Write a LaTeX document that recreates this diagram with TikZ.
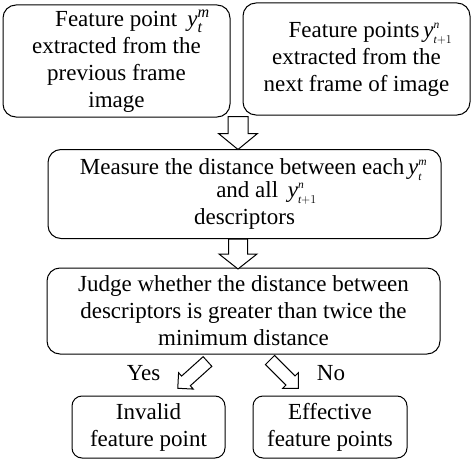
\documentclass[tikz,border=0pt]{standalone}
\usepackage{fontspec}
\setmainfont{Liberation Serif}
\usetikzlibrary{calc}
\begin{document}
\begin{tikzpicture}[x=1pt,y=-1pt,
  txt/.style={font=\fontsize{23}{27}\selectfont},
  box/.style={draw, rounded corners=13pt, line width=1pt, align=center, inner sep=0pt, txt},
  arrowline/.style={draw, line width=1pt, fill=white, line join=miter},
  vblock/.pic={\path[arrowline] (-10,0) -- (-10,17) -- (-19.5,17) -- (0,33) -- (19.5,17) -- (10,17) -- (10,0) -- cycle;},
  vblockb/.pic={\path[arrowline] (-9.5,0) -- (-9.5,15) -- (-19,15) -- (0,30) -- (19,15) -- (9.5,15) -- (9.5,0) -- cycle;},
  dblock/.pic={\path[arrowline] (0,-6.5) -- (29,-6.5) -- (29,-11) -- (40,0) -- (29,11) -- (29,6.5) -- (0,6.5) -- cycle;},
  lbl/.style={txt, inner sep=0pt, anchor=base}]
\useasboundingbox (0,0) rectangle (474,460);
\node[box, minimum width=227pt, minimum height=112pt] (b1) at (116.5,61)
  {\hspace*{32pt}Feature point\;\,$\mathit{y}_{\mathit{t}}^{\mathit{m}}$\\extracted from the\\previous frame\\image};
\node[box, minimum width=227pt, minimum height=112pt] (b2) at (356.5,59)
  {\hspace*{28pt}Feature points\,$\mathit{y}_{\scriptscriptstyle\mathit{t}+1}^{\scriptscriptstyle\mathit{n}}$\\extracted from the\\next frame of image};
\node[box, minimum width=393pt, minimum height=89pt] (b3) at (244.5,194)
  {\hspace*{18pt}Measure the distance between each\,$\mathit{y}_{\scriptscriptstyle\mathit{t}}^{\scriptscriptstyle\mathit{m}}$\\[-4pt]
   \hspace*{44pt}and all \,$\mathit{y}_{\scriptscriptstyle\mathit{t}+1}^{\scriptscriptstyle\mathit{n}}$\\descriptors};
\node[box, minimum width=393pt, minimum height=86pt] (b4) at (243.5,311)
  {Judge whether the distance between\\descriptors is greater than twice the\\minimum distance};
\node[box, minimum width=153pt, minimum height=62pt, rounded corners=10pt] (b5) at (148.5,427)
  {Invalid\\feature point};
\node[box, minimum width=154pt, minimum height=62pt, rounded corners=10pt] (b6) at (330,427)
  {Effective\\feature points};
\coordinate (gap) at ($(b1.south east)!0.5!(b2.south west)+(1.5,0)$);
\pic (a1) at (gap) {vblock};
\pic (a2) at (b3.south -| gap) {vblockb};
\pic[rotate=222] (a3) at (207.5,361.5) {dblock};
\pic[rotate=-45] (a4) at (270,360) {dblock};
\node[lbl] (yes) at (143.5,380) {Yes};
\node[lbl] (no) at (331,380) {No};
\end{tikzpicture}
\end{document}
